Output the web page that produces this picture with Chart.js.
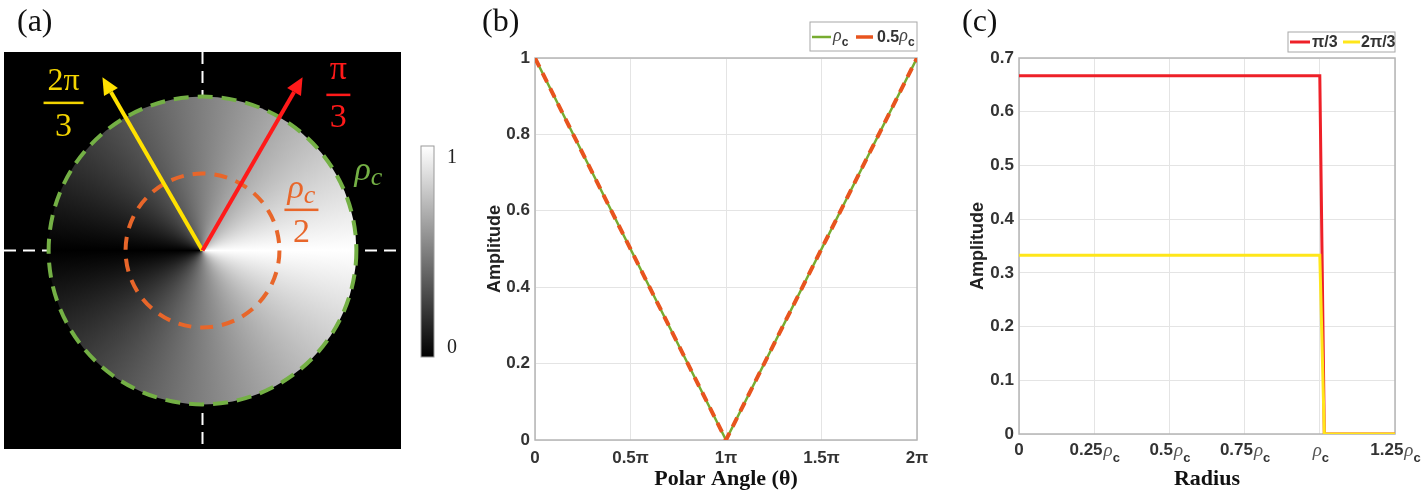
<!DOCTYPE html>
<html lang="en">
<head>
<meta charset="UTF-8">
<title>Vortex phase map and amplitude profiles</title>
<style>
    body {
        margin: 0;
        background: #fff;
        width: 1425px;
        height: 495px;
        overflow: hidden;
        position: relative;
    }
    .panel { position: absolute; top: 0; height: 495px; }
    #panel-a { left: 0; width: 470px; }
    #panel-b { left: 470px; width: 480px; }
    #panel-c { left: 950px; width: 475px; }
</style>
<script src="https://cdn.jsdelivr.net/npm/chart.js"></script>
</head>
<body>
<div class="panel" id="panel-a"><canvas id="chart-a"></canvas></div>
<div class="panel" id="panel-b"><canvas id="chart-b"></canvas></div>
<div class="panel" id="panel-c"><canvas id="chart-c"></canvas></div>

<script>
// ---- (a) phase map: radii in units of rho_c, angles in radians
const rhoC = 1;
const halfRho = 0.5;
const arrowAngles = [Math.PI / 3, 2 * Math.PI / 3];
const arrowColors = ['#ff1a1a', '#ffe100'];
const arrowLength = 1.19;
const colorbarTicks = ['1', '0'];

// ---- (b) amplitude vs polar angle (x in units of pi)
const angleX = [0, 1, 2];
const ampRhoC = [1, 0, 1];
const ampHalfRhoC = [1, 0, 1];
const angleTicks = ['0', '0.5π', '1π', '1.5π', '2π'];

// ---- (c) amplitude vs radius (x in units of rho_c)
const radiusX = [0, 1.0, 1.015, 1.25];
const ampPi3 = [0.667, 0.667, 0, 0];
const amp2Pi3 = [0.333, 0.333, 0, 0];
const radiusTicks = ['0', '0.25', '0.5', '0.75', '', '1.25'];

const serif = "'Liberation Serif', 'Times New Roman', serif";
const sans = "'Liberation Sans', Arial, sans-serif";
const gridColor = '#e4e4e4';
const tickFont = { family: sans, size: 17, weight: 'bold' };
const tickColor = '#333';

// rho with subscript c, returns drawn width
function rhoSub(ctx, x, y, rhoFont, subFont, drop, color, subColor) {
    ctx.textAlign = 'left';
    ctx.textBaseline = 'alphabetic';
    ctx.fillStyle = color;
    ctx.font = rhoFont;
    ctx.fillText('ρ', x, y);
    const w = ctx.measureText('ρ').width;
    ctx.fillStyle = subColor || color;
    ctx.font = subFont;
    ctx.fillText('c', x + w, y + drop);
    return w + ctx.measureText('c').width;
}
function rhoSubWidth(ctx, rhoFont, subFont) {
    ctx.font = rhoFont;
    const w = ctx.measureText('ρ').width;
    ctx.font = subFont;
    return w + ctx.measureText('c').width;
}

function panelLabel(text, x) {
    return {
        id: 'panelLabel',
        afterDraw(chart) {
            const ctx = chart.ctx;
            ctx.save();
            ctx.fillStyle = '#111';
            ctx.font = `32px ${serif}`;
            ctx.textAlign = 'left';
            ctx.textBaseline = 'middle';
            ctx.fillText(text, x, 23);
            ctx.restore();
        }
    };
}

// full MATLAB style box round the plot area
const boxPlugin = {
    id: 'box',
    beforeDatasetsDraw(chart) {
        const { ctx, chartArea: a } = chart;
        ctx.save();
        ctx.strokeStyle = '#b5b5b5';
        ctx.lineWidth = 1.5;
        ctx.strokeRect(a.left, a.top, a.width, a.height);
        ctx.restore();
    }
};

// ---------- (a)
const phaseMap = {
    id: 'phaseMap',
    beforeDatasetsDraw(chart) {
        const { ctx, chartArea: a, scales: { x, y } } = chart;
        const cx = x.getPixelForValue(0), cy = y.getPixelForValue(0);
        const r = x.getPixelForValue(rhoC) - cx;
        const r2 = x.getPixelForValue(halfRho) - cx;
        ctx.save();
        ctx.fillStyle = '#000';
        ctx.fillRect(a.left, a.top, a.width, a.height);

        ctx.strokeStyle = '#fff';
        ctx.lineWidth = 2;
        ctx.setLineDash([12, 7]);
        ctx.beginPath();
        ctx.moveTo(cx, a.top); ctx.lineTo(cx, a.bottom);
        ctx.moveTo(a.left, cy); ctx.lineTo(a.right, cy);
        ctx.stroke();
        ctx.setLineDash([]);

        if (ctx.createConicGradient) {
            const g = ctx.createConicGradient(0, cx, cy);
            g.addColorStop(0, '#fff');
            g.addColorStop(0.5, '#000');
            g.addColorStop(1, '#fff');
            ctx.fillStyle = g;
            ctx.beginPath();
            ctx.arc(cx, cy, r, 0, 2 * Math.PI);
            ctx.fill();
        } else {
            const n = 360;
            for (let i = 0; i < n; i++) {
                const a0 = i / n * 2 * Math.PI, a1 = (i + 1.5) / n * 2 * Math.PI;
                const v = Math.round(Math.abs((i + 0.5) / n - 0.5) * 2 * 255);
                ctx.fillStyle = `rgb(${v},${v},${v})`;
                ctx.beginPath();
                ctx.moveTo(cx, cy);
                ctx.arc(cx, cy, r, a0, a1);
                ctx.closePath();
                ctx.fill();
            }
        }

        ctx.lineWidth = 4;
        ctx.strokeStyle = '#74b045';
        ctx.setLineDash([15, 9]);
        ctx.beginPath();
        ctx.arc(cx, cy, r, 0, 2 * Math.PI);
        ctx.stroke();

        ctx.strokeStyle = '#e8662a';
        ctx.setLineDash([13, 9]);
        ctx.beginPath();
        ctx.arc(cx, cy, r2, 0, 2 * Math.PI);
        ctx.stroke();
        ctx.restore();
    },
    afterDatasetsDraw(chart) {
        const { ctx, chartArea: a, scales: { x, y } } = chart;
        ctx.save();
        // arrow heads
        chart.data.datasets.forEach((ds, i) => {
            const pts = chart.getDatasetMeta(i).data;
            const p0 = pts[0], p1 = pts[1];
            const dx = p1.x - p0.x, dy = p1.y - p0.y;
            const len = Math.hypot(dx, dy);
            const ux = dx / len, uy = dy / len;
            const tipX = p1.x + ux * 17, tipY = p1.y + uy * 17;
            ctx.fillStyle = ds.borderColor;
            ctx.beginPath();
            ctx.moveTo(tipX, tipY);
            ctx.lineTo(p1.x - uy * 8, p1.y + ux * 8);
            ctx.lineTo(p1.x + uy * 8, p1.y - ux * 8);
            ctx.closePath();
            ctx.fill();
        });

        const P = (u, v) => [x.getPixelForValue(u), y.getPixelForValue(v)];
        ctx.textAlign = 'center';
        ctx.textBaseline = 'alphabetic';

        // 2π/3
        let [lx, ly] = P(-0.903, 0.961);
        ctx.fillStyle = '#f3d400';
        ctx.font = `32px ${serif}`;
        ctx.fillText('2π', lx, ly - 13);
        ctx.fillRect(lx - 20, ly - 1, 40, 2.5);
        ctx.font = `34px ${serif}`;
        ctx.fillText('3', lx, ly + 33);

        // π/3
        [lx, ly] = P(0.883, 1.013);
        ctx.fillStyle = '#ff1a1a';
        ctx.font = `34px ${serif}`;
        ctx.fillText('π', lx, ly - 16);
        ctx.fillRect(lx - 12, ly - 1, 24, 2.5);
        ctx.fillText('3', lx, ly + 32);

        // ρc/2
        [lx, ly] = P(0.643, 0.266);
        const rf = `italic 34px ${serif}`, sf = `italic 26px ${serif}`;
        const w = rhoSubWidth(ctx, rf, sf);
        rhoSub(ctx, lx - w / 2, ly - 12, rf, sf, 5, '#e8662a');
        ctx.fillStyle = '#e8662a';
        ctx.fillRect(lx - 17, ly - 1, 34, 2.5);
        ctx.textAlign = 'center';
        ctx.font = `34px ${serif}`;
        ctx.fillText('2', lx, ly + 32);

        // ρc
        [lx, ly] = P(0.987, 0.46);
        rhoSub(ctx, lx, ly, rf, sf, 5, '#74b045');

        // colour bar
        const cbL = a.right + 20, cbT = a.top + 94, cbW = 13, cbH = 211;
        const lg = ctx.createLinearGradient(0, cbT, 0, cbT + cbH);
        lg.addColorStop(0, '#fff');
        lg.addColorStop(1, '#000');
        ctx.fillStyle = lg;
        ctx.fillRect(cbL, cbT, cbW, cbH);
        ctx.strokeStyle = '#9a9a9a';
        ctx.lineWidth = 1;
        ctx.strokeRect(cbL, cbT, cbW, cbH);
        ctx.fillStyle = '#222';
        ctx.font = `20px ${serif}`;
        ctx.textAlign = 'left';
        ctx.textBaseline = 'middle';
        ctx.fillText(colorbarTicks[0], cbL + 26, cbT + 12);
        ctx.fillText(colorbarTicks[1], cbL + 26, cbT + cbH - 9);
        ctx.restore();
    }
};

new Chart(document.getElementById('chart-a'), {
    type: 'scatter',
    data: {
        datasets: arrowAngles.map((ang, i) => ({
            data: [{ x: 0, y: 0 }, { x: arrowLength * Math.cos(ang), y: arrowLength * Math.sin(ang) }],
            showLine: true,
            borderColor: arrowColors[i],
            borderWidth: 4,
            pointRadius: 0
        }))
    },
    options: {
        animation: false,
        responsive: true,
        maintainAspectRatio: false,
        layout: { padding: { left: 4, top: 52, right: 69, bottom: 46 } },
        scales: {
            x: { type: 'linear', min: -1.29, max: 1.29, display: false },
            y: { type: 'linear', min: -1.29, max: 1.29, display: false }
        },
        plugins: { legend: { display: false }, tooltip: { enabled: false } }
    },
    plugins: [phaseMap, panelLabel('(a)', 17)]
});

// ---------- (b)
const legendB = {
    id: 'legendB',
    afterDraw(chart) {
        const { ctx, chartArea: a } = chart;
        const bx = a.right - 107, by = a.top - 36, bw = 107, bh = 29;
        const my = by + 15;
        ctx.save();
        ctx.fillStyle = '#fff';
        ctx.fillRect(bx, by, bw, bh);
        ctx.strokeStyle = '#a8a8a8';
        ctx.lineWidth = 1;
        ctx.strokeRect(bx, by, bw, bh);
        ctx.lineWidth = 2.5;
        ctx.strokeStyle = '#77ac30';
        ctx.beginPath(); ctx.moveTo(bx + 2, my); ctx.lineTo(bx + 21, my); ctx.stroke();
        const rf = `italic 18px ${serif}`, sf = `bold 12px ${sans}`;
        rhoSub(ctx, bx + 23, my + 4, rf, sf, 5, '#444', '#333');
        ctx.lineWidth = 3.5;
        ctx.strokeStyle = '#e8541e';
        ctx.beginPath(); ctx.moveTo(bx + 46, my); ctx.lineTo(bx + 63, my); ctx.stroke();
        ctx.fillStyle = '#333';
        ctx.font = `bold 16px ${sans}`;
        ctx.textAlign = 'left';
        ctx.textBaseline = 'alphabetic';
        ctx.fillText('0.5', bx + 67, my + 5);
        const w = ctx.measureText('0.5').width;
        rhoSub(ctx, bx + 67 + w, my + 4, rf, sf, 5, '#444', '#333');
        ctx.restore();
    }
};

new Chart(document.getElementById('chart-b'), {
    type: 'scatter',
    data: {
        datasets: [
            {
                label: '0.5ρc',
                data: angleX.map((v, i) => ({ x: v, y: ampHalfRhoC[i] })),
                showLine: true,
                borderColor: '#e8541e',
                borderWidth: 4,
                borderDash: [10, 7],
                pointRadius: 0,
                order: 0
            },
            {
                label: 'ρc',
                data: angleX.map((v, i) => ({ x: v, y: ampRhoC[i] })),
                showLine: true,
                borderColor: '#77ac30',
                borderWidth: 2.5,
                pointRadius: 0,
                order: 1
            }
        ]
    },
    options: {
        animation: false,
        responsive: true,
        maintainAspectRatio: false,
        layout: { padding: { left: 0, top: 58, right: 33, bottom: 0 } },
        scales: {
            x: {
                type: 'linear', min: 0, max: 2,
                afterFit: s => { s.height = 55; },
                ticks: { stepSize: 0.5, padding: 8, color: tickColor, font: tickFont, maxRotation: 0,
                         callback: (v, i) => angleTicks[i] },
                grid: { color: gridColor, drawTicks: false },
                border: { display: false },
                title: { display: true, text: 'Polar Angle (θ)', color: '#111',
                         font: { family: serif, size: 22, weight: 'bold' }, padding: { top: 0, bottom: 2 } }
            },
            y: {
                min: 0, max: 1,
                afterFit: s => { s.width = 65; },
                ticks: { stepSize: 0.2, padding: 5, color: tickColor, font: tickFont,
                         callback: v => (v === 0 || v === 1) ? String(v) : v.toFixed(1) },
                grid: { color: gridColor, drawTicks: false },
                border: { display: false },
                title: { display: true, text: 'Amplitude', color: '#222',
                         font: { family: sans, size: 18, weight: 'bold' }, padding: { top: 14, bottom: 0 } }
            }
        },
        plugins: { legend: { display: false }, tooltip: { enabled: false } }
    },
    plugins: [boxPlugin, legendB, panelLabel('(b)', 12)]
});

// ---------- (c)
const legendC = {
    id: 'legendC',
    afterDraw(chart) {
        const { ctx, chartArea: a } = chart;
        const bx = a.right - 107, by = a.top - 26, bw = 107, bh = 20;
        const my = by + 10;
        ctx.save();
        ctx.fillStyle = '#fff';
        ctx.fillRect(bx, by, bw, bh);
        ctx.strokeStyle = '#a8a8a8';
        ctx.lineWidth = 1;
        ctx.strokeRect(bx, by, bw, bh);
        ctx.lineWidth = 3;
        ctx.strokeStyle = '#ee2028';
        ctx.beginPath(); ctx.moveTo(bx + 2, my); ctx.lineTo(bx + 22, my); ctx.stroke();
        ctx.strokeStyle = '#ffe61a';
        ctx.beginPath(); ctx.moveTo(bx + 55, my); ctx.lineTo(bx + 72, my); ctx.stroke();
        ctx.fillStyle = '#333';
        ctx.font = `bold 16px ${sans}`;
        ctx.textAlign = 'left';
        ctx.textBaseline = 'middle';
        ctx.fillText('π/3', bx + 24, my + 1);
        ctx.fillText('2π/3', bx + 73, my + 1);
        ctx.restore();
    }
};

const radiusTickLabels = {
    id: 'radiusTickLabels',
    afterDraw(chart) {
        const { ctx, scales: { x } } = chart;
        const base = chart.chartArea.bottom + 21;
        const rf = `italic 19px ${serif}`, sf = `bold 13px ${sans}`;
        ctx.save();
        x.ticks.forEach((t, i) => {
            const px = x.getPixelForValue(t.value);
            const pre = radiusTicks[i];
            ctx.font = `bold 17px ${sans}`;
            const pw = ctx.measureText(pre).width;
            const rw = i === 0 ? 0 : rhoSubWidth(ctx, rf, sf);
            const x0 = px - (pw + rw) / 2;
            ctx.fillStyle = tickColor;
            ctx.font = `bold 17px ${sans}`;
            ctx.textAlign = 'left';
            ctx.textBaseline = 'alphabetic';
            ctx.fillText(pre, x0, base);
            if (i > 0) rhoSub(ctx, x0 + pw + 1, base + 1, rf, sf, 6, '#555', tickColor);
        });
        ctx.restore();
    }
};

new Chart(document.getElementById('chart-c'), {
    type: 'scatter',
    data: {
        datasets: [
            {
                label: '2π/3',
                data: radiusX.map((v, i) => ({ x: v, y: amp2Pi3[i] })),
                showLine: true,
                borderColor: '#ffe61a',
                borderWidth: 3,
                pointRadius: 0,
                order: 0
            },
            {
                label: 'π/3',
                data: radiusX.map((v, i) => ({ x: v, y: ampPi3[i] })),
                showLine: true,
                borderColor: '#ee2028',
                borderWidth: 3,
                pointRadius: 0,
                order: 1
            }
        ]
    },
    options: {
        animation: false,
        responsive: true,
        maintainAspectRatio: false,
        layout: { padding: { left: 0, top: 58, right: 30, bottom: 0 } },
        scales: {
            x: {
                type: 'linear', min: 0, max: 1.25,
                afterFit: s => { s.height = 61; },
                ticks: { stepSize: 0.25, display: false },
                grid: { color: gridColor, drawTicks: false },
                border: { display: false },
                title: { display: true, text: 'Radius', color: '#111',
                         font: { family: serif, size: 22, weight: 'bold' }, padding: { top: 0, bottom: 2 } }
            },
            y: {
                min: 0, max: 0.7,
                afterFit: s => { s.width = 69; },
                ticks: { stepSize: 0.1, padding: 5, color: tickColor, font: tickFont,
                         callback: v => v === 0 ? '0' : v.toFixed(1) },
                grid: { color: gridColor, drawTicks: false },
                border: { display: false },
                title: { display: true, text: 'Amplitude', color: '#222',
                         font: { family: sans, size: 18, weight: 'bold' }, padding: { top: 17, bottom: 0 } }
            }
        },
        plugins: { legend: { display: false }, tooltip: { enabled: false } }
    },
    plugins: [boxPlugin, legendC, radiusTickLabels, panelLabel('(c)', 12)]
});
</script>
</body>
</html>
